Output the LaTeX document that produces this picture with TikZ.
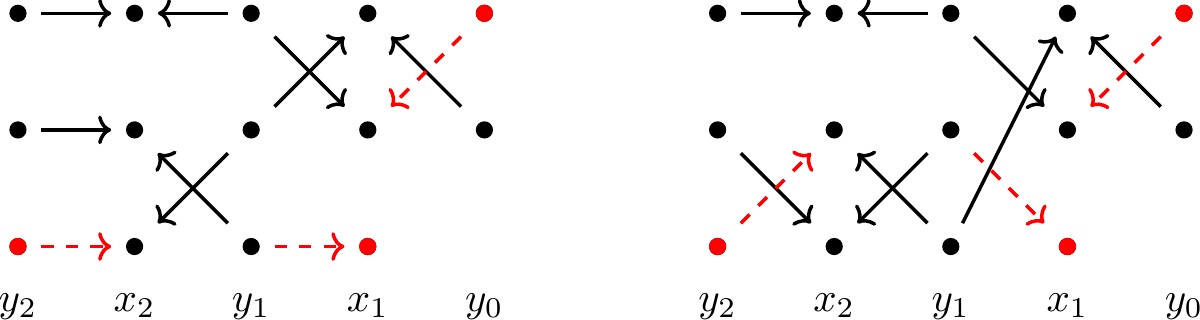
\documentclass[tikz,border=0pt]{standalone}
\usetikzlibrary{arrows.meta,calc}
\begin{document}
\begin{tikzpicture}[
  dot/.style={circle,fill=black,inner sep=0pt,minimum size=4.2pt},
  rdot/.style={dot,fill=red},
  arr/.style={line width=0.85pt,-{To[length=3.2pt,width=7pt]}},
  rarr/.style={arr,red,dashed},
  lab/.style={anchor=base,inner sep=0pt}
]
\useasboundingbox (-0.154,-0.628) rectangle (10.137,2.114);
% dots
\foreach \x in {0,...,4,6,7,8,9,10}
  \foreach \y in {1,2}
    \node[dot] (p\x-\y) at (\x,\y) {};
\foreach \x in {0,...,3,6,7,8,9}
  \node[dot] (p\x-0) at (\x,0) {};
% red dots
\foreach \x/\y in {0/0,3/0,4/2,6/0,9/0,10/2}
  \node[rdot] at (p\x-\y) {};
% labels
\foreach \o in {0,6}{
  \node[lab] (ly2-\o) at (\o+0,-0.56) {$y_2$};
  \node[lab] (lx2-\o) at (\o+1,-0.56) {$x_2$};
  \node[lab] (ly1-\o) at (\o+2,-0.56) {$y_1$};
  \node[lab] (lx1-\o) at (\o+3,-0.56) {$x_1$};
  \node[lab] (ly0-\o) at (\o+4,-0.56) {$y_0$};
}
% left diagram
\foreach \a/\b in {0-2/1-2, 2-2/1-2, 0-1/1-1, 2-1/3-2, 2-2/3-1, 4-1/3-2, 2-1/1-0, 2-0/1-1}
  \draw[arr] ($(p\a.center)!0.2!(p\b.center)$) -- ($(p\b.center)!0.2!(p\a.center)$);
\foreach \a/\b in {4-2/3-1, 0-0/1-0, 2-0/3-0}
  \draw[rarr] ($(p\a.center)!0.2!(p\b.center)$) -- ($(p\b.center)!0.2!(p\a.center)$);
% right diagram
\foreach \a/\b in {6-2/7-2, 8-2/7-2, 8-2/9-1, 10-1/9-2, 6-1/7-0, 8-1/7-0, 8-0/7-1}
  \draw[arr] ($(p\a.center)!0.2!(p\b.center)$) -- ($(p\b.center)!0.2!(p\a.center)$);
\draw[arr] ($(p8-0.center)!0.1!(p9-2.center)$) -- ($(p9-2.center)!0.1!(p8-0.center)$);
\foreach \a/\b in {10-2/9-1, 6-0/7-1, 8-1/9-0}
  \draw[rarr] ($(p\a.center)!0.2!(p\b.center)$) -- ($(p\b.center)!0.2!(p\a.center)$);
\end{tikzpicture}
\end{document}
